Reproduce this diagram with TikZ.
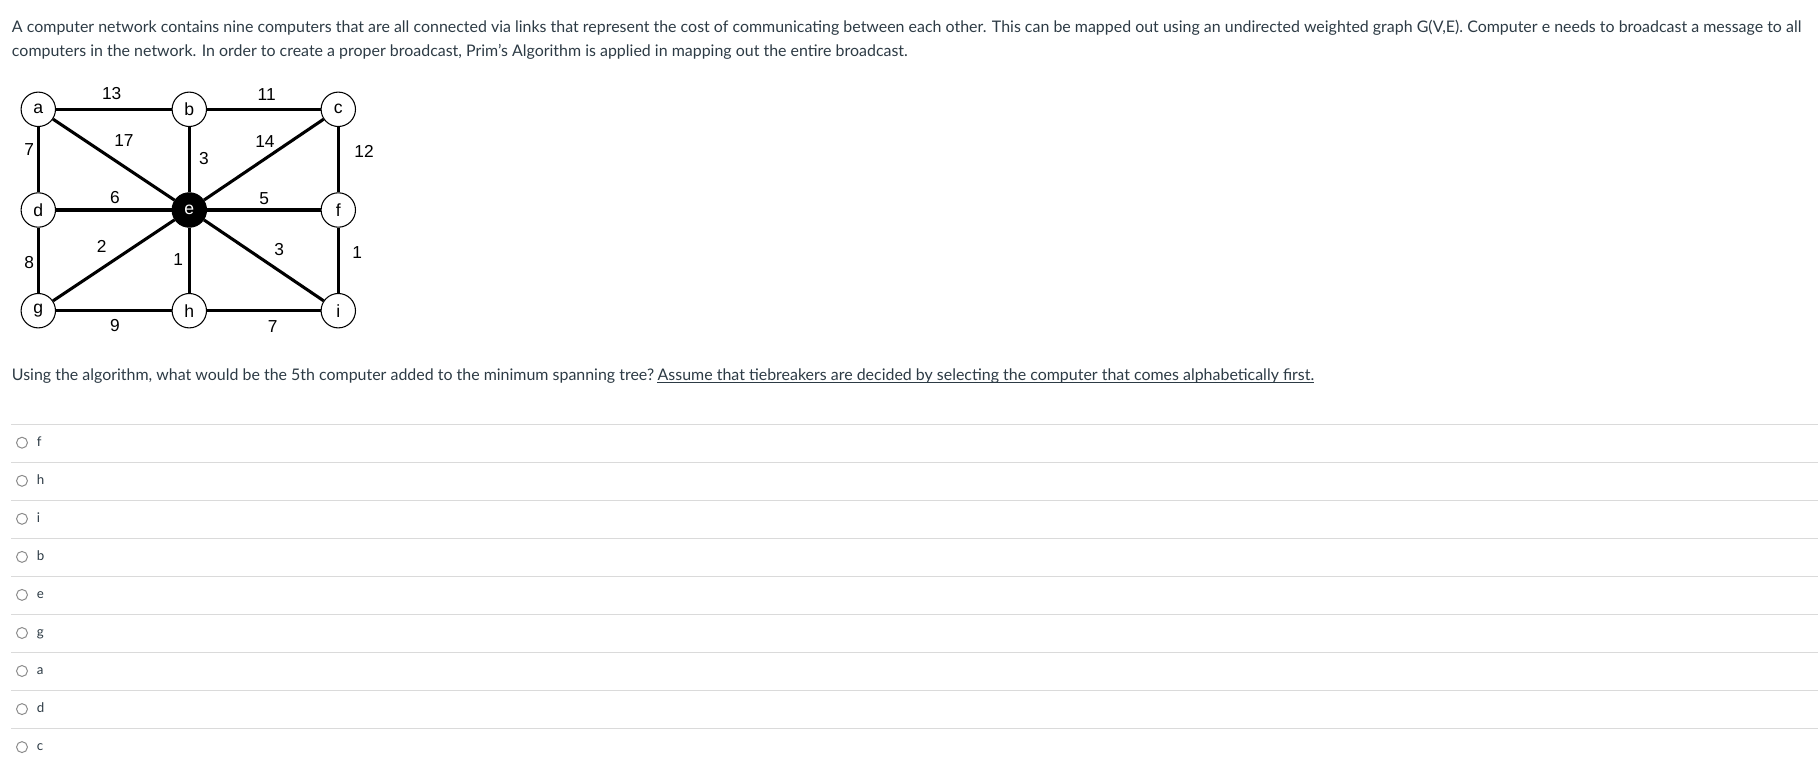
\documentclass[tikz,border=0pt]{standalone}
\usepackage{fontspec}
\setmainfont{Lato}
\newfontfamily\graphfont{Liberation Sans}
\usepackage{xcolor}
\definecolor{canvastext}{HTML}{2D3B45}
\definecolor{rulegray}{HTML}{DADADA}
\definecolor{radiogray}{HTML}{8C8C8C}

\begin{document}
\begin{tikzpicture}[
            x=0.75pt, y=-0.75pt,
            vertex/.style={circle, draw, line width=0.8pt, fill=white,
                minimum size=25.8pt, inner sep=0pt,
                font=\graphfont\fontsize{13.2}{15}\selectfont},
            source/.style={vertex, fill=black, text=white},
            link/.style={line width=2.3pt},
            weight/.style={inner sep=0pt, font=\graphfont\fontsize{13}{15}\selectfont},
            prose/.style={anchor=base west, inner sep=0pt, text=canvastext,
                font=\fontsize{11.96}{14}\selectfont},
            radio/.style={circle, draw=radiogray, line width=0.75pt,
                minimum size=8.2pt, inner sep=0pt},
            choice/.style={anchor=base west, inner sep=0pt, text=canvastext,
                font=\fontsize{10}{12}\selectfont},
            separator/.style={rulegray, line width=0.8pt}
        ]
            % Fondo y margenes
            \fill[white] (0,0) rectangle (1818,771);
            \useasboundingbox (0,0) rectangle (1818,771);

            % Enunciado
            \node[prose] (line1) at (11.7,32.7) {A computer network contains nine computers that are all connected via links that represent the cost of communicating between each other. This can be mapped out using an undirected weighted graph G(V,E). Computer e needs to broadcast a message to all};
            \node[prose] (line2) at (11.7,56) {computers in the network. In order to create a proper broadcast, Prim's Algorithm is applied in mapping out the entire broadcast.};

            % Vertices del grafo
            \node[vertex] (a) at (38.3,109.3) {a};
            \node[vertex] (b) at (189.3,109.3) {b};
            \node[vertex] (c) at (338.3,109.3) {c};
            \node[vertex] (d) at (38.3,210) {d};
            \node[source] (e) at (189.3,210) {e};
            \node[vertex] (f) at (338.3,210) {f};
            \node[vertex] (g) at (38.3,310.7) {g};
            \node[vertex] (h) at (189.3,310.7) {h};
            \node[vertex] (i) at (338.3,310.7) {i};

            % Aristas
            \draw[link] (a) -- (b);
            \draw[link] (b) -- (c);
            \draw[link] (a) -- (d);
            \draw[link] (c) -- (f);
            \draw[link] (d) -- (g);
            \draw[link] (f) -- (i);
            \draw[link] (g) -- (h);
            \draw[link] (h) -- (i);
            \draw[link] (a) -- (e);
            \draw[link] (b) -- (e);
            \draw[link] (c) -- (e);
            \draw[link] (d) -- (e);
            \draw[link] (f) -- (e);
            \draw[link] (g) -- (e);
            \draw[link] (h) -- (e);
            \draw[link] (i) -- (e);

            % Pesos
            \node[weight] (wab) at (111.7,94) {13};
            \node[weight] (wbc) at (266.7,95) {11};
            \node[weight] (wae) at (124,140.7) {17};
            \node[weight] (wbe) at (204,158.3) {3};
            \node[weight] (wce) at (265,141.7) {14};
            \node[weight] (wcf) at (364,151.7) {12};
            \node[weight] (wad) at (29.3,150) {7};
            \node[weight] (wde) at (115,197.7) {6};
            \node[weight] (wef) at (264.3,198.3) {5};
            \node[weight] (weg) at (101.7,246) {2};
            \node[weight] (weh) at (178.3,259.3) {1};
            \node[weight] (wei) at (279.3,250) {3};
            \node[weight] (wfi) at (357.3,252.7) {1};
            \node[weight] (wdg) at (29.3,262.7) {8};
            \node[weight] (wgh) at (115,326) {9};
            \node[weight] (whi) at (272.7,326.7) {7};

            % Pregunta
            \node[prose] (question) at (11.7,380.7) {Using the algorithm, what would be the 5th computer added to the minimum spanning tree?};
            \node[prose] (tiebreak) at ([xshift=2.4pt]question.base east) {Assume that tiebreakers are decided by selecting the computer that comes alphabetically first.};
            \draw[canvastext, line width=0.7pt] ([yshift=-1.3pt]tiebreak.base west) -- ([yshift=-1.3pt]tiebreak.base east);

            % Opciones
            \coordinate (rule1) at (11,424.3);
            \coordinate (rule2) at (11,462.4);
            \coordinate (rule3) at (11,500.4);
            \coordinate (rule4) at (11,538.5);
            \coordinate (rule5) at (11,576.5);
            \coordinate (rule6) at (11,614.6);
            \coordinate (rule7) at (11,652.6);
            \coordinate (rule8) at (11,690.7);
            \coordinate (rule9) at (11,728.7);
            \draw[separator] (rule1) -- (rule1 -| 1818,0);
            \draw[separator] (rule2) -- (rule2 -| 1818,0);
            \draw[separator] (rule3) -- (rule3 -| 1818,0);
            \draw[separator] (rule4) -- (rule4 -| 1818,0);
            \draw[separator] (rule5) -- (rule5 -| 1818,0);
            \draw[separator] (rule6) -- (rule6 -| 1818,0);
            \draw[separator] (rule7) -- (rule7 -| 1818,0);
            \draw[separator] (rule8) -- (rule8 -| 1818,0);
            \draw[separator] (rule9) -- (rule9 -| 1818,0);

            \node[radio] (r1) at (22,442.7) {};
            \node[radio] (r2) at (22,480.8) {};
            \node[radio] (r3) at (22,518.8) {};
            \node[radio] (r4) at (22,556.9) {};
            \node[radio] (r5) at (22,594.9) {};
            \node[radio] (r6) at (22,633.0) {};
            \node[radio] (r7) at (22,671.0) {};
            \node[radio] (r8) at (22,709.1) {};
            \node[radio] (r9) at (22,747.1) {};
            \node[choice] (o1) at (36.7,446.2) {f};
            \node[choice] (o2) at (36.7,484.3) {h};
            \node[choice] (o3) at (36.7,522.3) {i};
            \node[choice] (o4) at (36.7,560.4) {b};
            \node[choice] (o5) at (36.7,598.4) {e};
            \node[choice] (o6) at (36.7,636.5) {g};
            \node[choice] (o7) at (36.7,674.5) {a};
            \node[choice] (o8) at (36.7,712.6) {d};
            \node[choice] (o9) at (36.7,750.6) {c};

        \end{tikzpicture}
\end{document}
